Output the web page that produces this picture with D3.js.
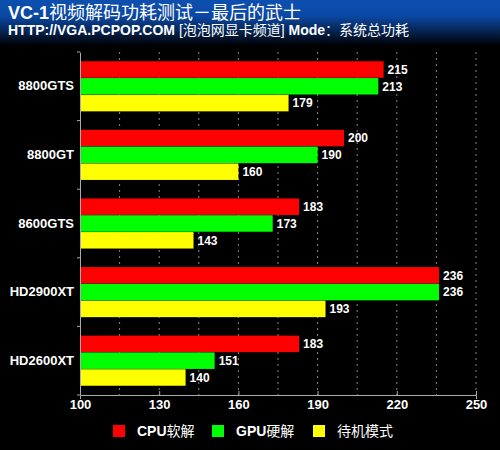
<!DOCTYPE html>
<html>
<head>
<meta charset="utf-8">
<script src="https://cdn.jsdelivr.net/npm/d3@7"></script>
<style>
  body { margin: 0; background: #000; }
  svg { display: block; font-family: Arial, "Liberation Sans", "Noto Sans CJK SC", sans-serif; }
  .axis text { fill: #fff; font-weight: bold; font-size: 13px; }
  .lbl { fill: #fff; font-weight: bold; font-size: 12px; }
</style>
</head>
<body>
<div id="chart"></div>
<script>
// data
const categories = ["8800GTS", "8800GT", "8600GTS", "HD2900XT", "HD2600XT"];
const seriesNames = ["CPU软解", "GPU硬解", "待机模式"];
const cpuValues = [215, 200, 183, 236, 183];
const gpuValues = [213, 190, 173, 236, 151];
const idleValues = [179, 160, 143, 193, 140];
const xTicks = [100, 130, 160, 190, 220, 250];
const colors = ["#ff0000", "#00ff00", "#ffff00"];

const series = [cpuValues, gpuValues, idleValues];

const width = 500, height = 450;
const margin = { top: 52, right: 24, bottom: 55, left: 80 };
const w = width - margin.left - margin.right;
const h = height - margin.top - margin.bottom;

const svg = d3.select("#chart").append("svg")
    .attr("width", width)
    .attr("height", height);

// header gradient
const defs = svg.append("defs");
const grad = defs.append("linearGradient")
    .attr("id", "hdr").attr("x1", 0).attr("y1", 0).attr("x2", 0).attr("y2", 1);
grad.append("stop").attr("offset", "0%").attr("stop-color", "#0d4fb0");
grad.append("stop").attr("offset", "35%").attr("stop-color", "#0b48a4");
grad.append("stop").attr("offset", "100%").attr("stop-color", "#000");

svg.append("rect").attr("width", width).attr("height", height).attr("fill", "#000");
svg.append("rect").attr("width", width).attr("height", 46).attr("fill", "url(#hdr)");

svg.append("text")
    .attr("x", 8).attr("y", 19)
    .attr("fill", "#fff")
    .style("font-size", "18px")
    .html('<tspan font-weight="bold">VC-1</tspan>视频解码功耗测试－最后的武士');

svg.append("text")
    .attr("x", 8).attr("y", 35)
    .attr("fill", "#fff")
    .style("font-size", "14px")
    .html('<tspan font-weight="bold">HTTP://VGA.PCPOP.COM </tspan>[泡泡网显卡频道]<tspan font-weight="bold"> Mode</tspan>：系统总功耗');

const plot = svg.append("g")
    .attr("transform", `translate(${margin.left},${margin.top})`);

const xScale = d3.scaleLinear().domain([100, 250]).range([0, w]);
const yScale = d3.scaleBand().domain(categories).range([0, h]).paddingInner(0.26).paddingOuter(0.13);
const inner = d3.scaleBand().domain(d3.range(3)).range([0, yScale.bandwidth()]).padding(0.02);

// dotted grid every 15
plot.append("g")
    .selectAll("line")
    .data(d3.range(115, 251, 15))
    .enter().append("line")
    .attr("x1", d => xScale(d)).attr("x2", d => xScale(d))
    .attr("y1", 0).attr("y2", h)
    .attr("stroke", "#888")
    .attr("stroke-width", 1)
    .attr("stroke-dasharray", "2,4");

// bars
series.forEach((vals, si) => {
    plot.selectAll(".bar" + si)
        .data(vals)
        .enter().append("rect")
        .attr("x", 0)
        .attr("y", (d, i) => yScale(categories[i]) + inner(si))
        .attr("width", d => xScale(d) - xScale(100))
        .attr("height", inner.bandwidth())
        .attr("fill", colors[si]);

    plot.selectAll(".lbl" + si)
        .data(vals)
        .enter().append("text")
        .attr("class", "lbl")
        .attr("x", d => xScale(d) + 4)
        .attr("y", (d, i) => yScale(categories[i]) + inner(si) + inner.bandwidth() / 2)
        .attr("dy", "0.36em")
        .text(d => d);
});

// y axis
const yAxis = plot.append("g").attr("class", "axis")
    .call(d3.axisLeft(yScale).tickSize(0).tickPadding(6));
yAxis.select(".domain").attr("stroke", "#aaa");
// category divider ticks
plot.append("g")
    .selectAll("line")
    .data(d3.range(categories.length + 1))
    .enter().append("line")
    .attr("x1", -3).attr("x2", 0)
    .attr("y1", d => d * h / categories.length)
    .attr("y2", d => d * h / categories.length)
    .attr("stroke", "#aaa");

// x axis
const xAxis = plot.append("g").attr("class", "axis")
    .attr("transform", `translate(0,${h})`)
    .call(d3.axisBottom(xScale).tickValues(xTicks).tickSize(4).tickPadding(2));
xAxis.select(".domain").attr("stroke", "#aaa");
xAxis.selectAll(".tick line").attr("stroke", "#aaa").attr("y2", -4);
xAxis.selectAll("text").attr("dy", "0.6em");

// legend
const legendX = [113, 212, 313];
const legend = svg.append("g").attr("transform", "translate(0,431)");
seriesNames.forEach((name, i) => {
    legend.append("rect")
        .attr("x", legendX[i]).attr("y", -6)
        .attr("width", 12).attr("height", 12)
        .attr("fill", colors[i]);
    legend.append("text")
        .attr("x", legendX[i] + 24)
        .attr("y", 0).attr("dy", "0.36em")
        .attr("fill", "#fff")
        .style("font-size", "14px")
        .html(i < 2
            ? `<tspan font-weight="bold">${name.slice(0, 3)}</tspan>${name.slice(3)}`
            : name);
});
</script>
</body>
</html>
